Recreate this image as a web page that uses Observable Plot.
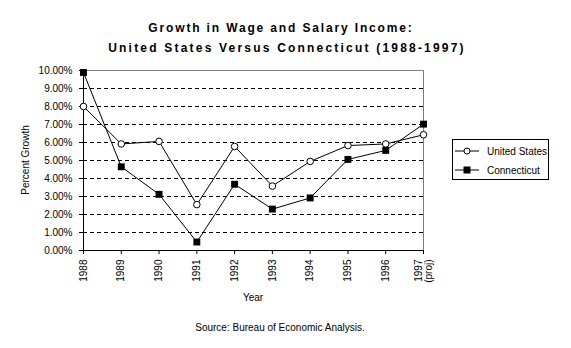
<!DOCTYPE html>
<html>
<head>
<meta charset="utf-8">
<script src="https://cdn.jsdelivr.net/npm/d3@7"></script>
<script src="https://cdn.jsdelivr.net/npm/@observablehq/plot@0.6"></script>
<style>
  html, body { margin: 0; padding: 0; background: #fff; }
  #wrap { position: relative; width: 571px; height: 348px; font-family: "Liberation Sans", Arial, sans-serif; color: #000; }
  #wrap svg.plot { position: absolute; left: 0; top: 0; }
  .lbl { position: absolute; white-space: nowrap; transform: translate(-50%, -50%); }
  .title { font-weight: bold; font-size: 12px; }
  #legend { position: absolute; left: 452px; top: 139px; width: 97px; height: 41px; border: 1px solid #000; box-sizing: border-box; font-size: 10px; }
  #legend .row { position: absolute; left: 2px; height: 12px; display: flex; align-items: center; }
  #legend .row span { margin-left: 8px; }
</style>
</head>
<body>
<div id="wrap">
  <div class="lbl title" style="left:281px; top:28px; letter-spacing:1.85px;">Growth in Wage and Salary Income:</div>
  <div class="lbl title" style="left:287px; top:48px; letter-spacing:2.2px;">United States Versus Connecticut (1988-1997)</div>
  <div class="lbl" style="left:25px; top:160px; font-size:10px; transform: translate(-50%,-50%) rotate(-90deg);">Percent Growth</div>
  <div class="lbl" style="left:253px; top:297px; font-size:10px;">Year</div>
  <div class="lbl" style="left:280px; top:327px; font-size:10px;">Source: Bureau of Economic Analysis.</div>
  <div id="legend">
    <div class="row" style="top:5px;"><svg width="24" height="10"><line x1="0" y1="5" x2="24" y2="5" stroke="#000"/><circle cx="12" cy="5" r="3" fill="#fff" stroke="#000"/></svg><span>United States</span></div>
    <div class="row" style="top:24px;"><svg width="24" height="10"><line x1="0" y1="5" x2="24" y2="5" stroke="#000"/><rect x="8.5" y="1.5" width="7" height="7" fill="#000"/></svg><span>Connecticut</span></div>
  </div>
</div>
<script>
const years = [1988, 1989, 1990, 1991, 1992, 1993, 1994, 1995, 1996, 1997];
const yearLabels = ["1988", "1989", "1990", "1991", "1992", "1993", "1994", "1995", "1996", "1997\n(proj)"];
const unitedStates = [0.0800, 0.0592, 0.0606, 0.0255, 0.0578, 0.0358, 0.0495, 0.0583, 0.0592, 0.0643];
const connecticut = [0.0989, 0.0465, 0.0312, 0.0047, 0.0368, 0.0230, 0.0292, 0.0506, 0.0556, 0.0702];
const yTicks = [0, 0.01, 0.02, 0.03, 0.04, 0.05, 0.06, 0.07, 0.08, 0.09, 0.10];

const us = years.map((y, i) => ({year: y, value: unitedStates[i]}));
const ct = years.map((y, i) => ({year: y, value: connecticut[i]}));

const chart = Plot.plot({
  width: 571,
  height: 348,
  marginLeft: 83,
  marginRight: 148,
  marginTop: 70,
  marginBottom: 98,
  style: {fontFamily: '"Liberation Sans", Arial, sans-serif', fontSize: "10px", background: "transparent", color: "#000"},
  x: {domain: [1988, 1997]},
  y: {domain: [0, 0.10]},
  marks: [
    Plot.gridY(yTicks.slice(1, -1), {stroke: "#000", strokeOpacity: 1, strokeDasharray: "4,3"}),
    Plot.ruleY([0.10], {stroke: "#808080"}),
    Plot.ruleX([1997], {stroke: "#808080"}),
    Plot.axisY(yTicks, {tickFormat: d3.format(".2%"), tickSize: 4, tickPadding: 7, label: null, stroke: "#000"}),
    Plot.axisX(years, {tickFormat: (d) => yearLabels[years.indexOf(d)], tickSize: 4, tickPadding: 5, tickRotate: -90, label: null, stroke: "#000"}),
    Plot.ruleX([1988], {stroke: "#000"}),
    Plot.ruleY([0], {stroke: "#000"}),
    Plot.line(us, {x: "year", y: "value", stroke: "#000", strokeWidth: 1}),
    Plot.line(ct, {x: "year", y: "value", stroke: "#000", strokeWidth: 1}),
    Plot.dot(us, {x: "year", y: "value", symbol: "circle", r: 3.3, fill: "#fff", stroke: "#000", strokeWidth: 1}),
    Plot.dot(ct, {x: "year", y: "value", symbol: "square", r: 3.9, fill: "#000", stroke: "none"})
  ]
});
chart.classList.add("plot");
document.getElementById("wrap").prepend(chart);
</script>
</body>
</html>
